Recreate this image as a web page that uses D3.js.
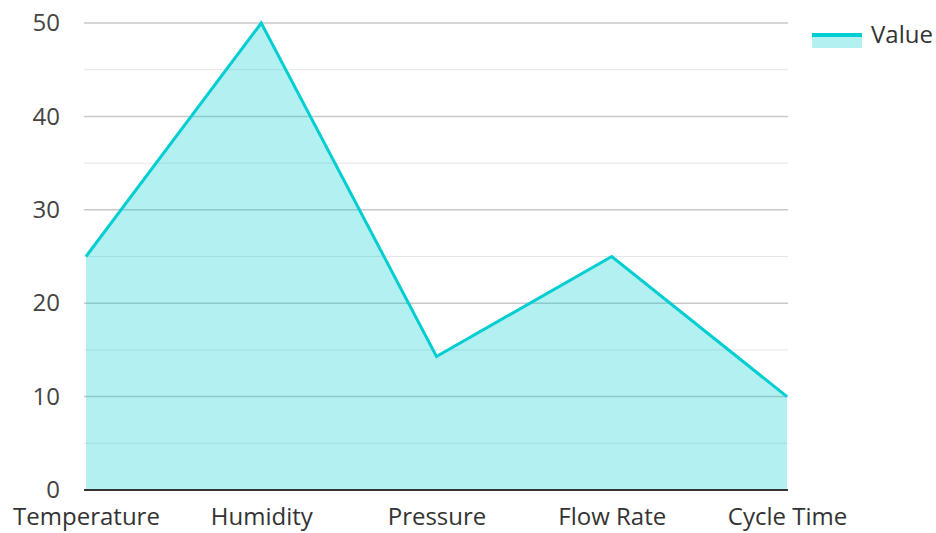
<!DOCTYPE html>
<html><head><meta charset="utf-8">
<script src="https://cdn.jsdelivr.net/npm/d3@7"></script>
<style>body{margin:0;background:#fff}svg{display:block}text{font-family:"Open Sans",sans-serif}</style>
</head><body><svg id="c" width="936" height="533"></svg>
<script>
const categories = ["Temperature","Humidity","Pressure","Flow Rate","Cycle Time"];
const values = [25, 50, 14.3, 25, 10];
const yTicks = [0,10,20,30,40,50];
const minorTicks = [5,15,25,35,45];
const seriesName = "Value";

const svg = d3.select("#c");
const m = {l:86, r:787, t:23, b:490};
const x = d3.scalePoint().domain(categories).range([m.l, m.r]);
const y = d3.scaleLinear().domain([0,50]).range([m.b, m.t]);
const color = "darkturquoise";

svg.append("g").selectAll("line").data(minorTicks).join("line")
  .attr("x1", m.l-2).attr("x2", m.r+1).attr("y1", d=>y(d)).attr("y2", d=>y(d))
  .attr("stroke", "#e6e6e6").attr("stroke-width", 1);
svg.append("g").selectAll("line").data(yTicks.filter(d=>d>0)).join("line")
  .attr("x1", m.l-2).attr("x2", m.r+1).attr("y1", d=>y(d)).attr("y2", d=>y(d))
  .attr("stroke", "#c8c8c8").attr("stroke-width", 1.5);

const data = categories.map((c,i)=>({c, v: values[i]}));
svg.append("path").datum(data)
  .attr("d", d3.area().x(d=>x(d.c)).y0(y(0)).y1(d=>y(d.v)))
  .attr("fill", color).attr("fill-opacity", 0.3);
svg.append("path").datum(data)
  .attr("d", d3.line().x(d=>x(d.c)).y(d=>y(d.v)))
  .attr("fill", "none").attr("stroke", color).attr("stroke-width", 3).attr("stroke-linejoin","miter");

svg.append("line").attr("x1", m.l-2).attr("x2", m.r+1).attr("y1", y(0)).attr("y2", y(0))
  .attr("stroke", "#333").attr("stroke-width", 2);

const yAxis = d3.axisLeft(y).tickValues(yTicks).tickSize(0).tickPadding(0).tickFormat(d3.format("d"));
const ga = svg.append("g").attr("transform", `translate(${m.l-26},0)`).call(yAxis);
ga.select(".domain").remove();
ga.selectAll("text").attr("font-size", 24).attr("fill", "#444").attr("font-family", '"Open Sans",sans-serif');

const xAxis = d3.axisBottom(x).tickSize(0).tickPadding(0);
const gx = svg.append("g").attr("transform", `translate(0,${m.b+18})`).call(xAxis);
gx.select(".domain").remove();
gx.selectAll("text").attr("font-size", 24).attr("fill", "#333").attr("font-family", '"Open Sans",sans-serif');

const lg = svg.append("g");
lg.append("rect").attr("x", 812).attr("y", 35).attr("width", 50).attr("height", 13).attr("fill", color).attr("fill-opacity", 0.3);
lg.append("line").attr("x1", 812).attr("x2", 862).attr("y1", 35).attr("y2", 35).attr("stroke", color).attr("stroke-width", 4);
lg.append("text").attr("x", 871).attr("y", 35).attr("dy", "0.35em").attr("font-size", 24).attr("fill", "#333").text(seriesName);
</script></body></html>
